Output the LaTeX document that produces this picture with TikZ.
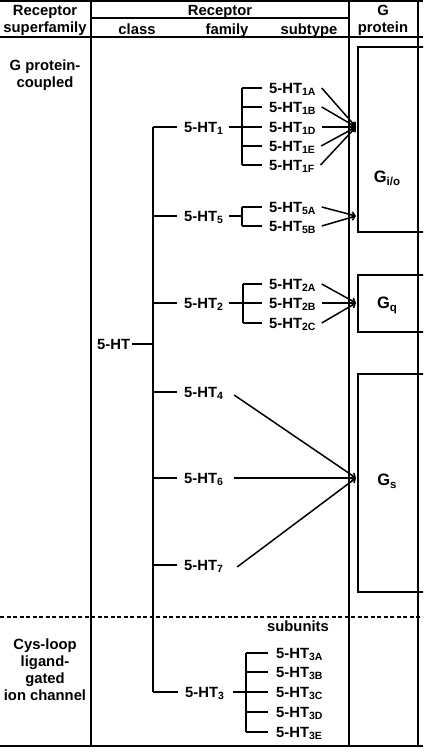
\documentclass[tikz,border=0pt]{standalone}
\usepackage{fontspec}
\setmainfont{Liberation Sans}
\usetikzlibrary{arrows.meta}
\newcommand\sbs[1]{\raisebox{-2pt}{\fontsize{10.5}{10.5}\selectfont #1}}
\newcommand\gsb[1]{\raisebox{-2.5pt}{\fontsize{11.5}{11.5}\selectfont #1}}
\begin{document}
\begin{tikzpicture}[x=1pt,y=-1pt,
  lab/.style={font=\fontsize{14.8}{17}\selectfont\bfseries, inner sep=0pt, text height=10.6pt, text depth=0pt},
  rl/.style={lab, anchor=west},
  hd/.style={lab, anchor=center},
  gl/.style={font=\fontsize{16.5}{18}\selectfont\bfseries, inner sep=0pt, text height=11.8pt, text depth=0pt, anchor=center},
  ml/.style={font=\fontsize{14.8}{17}\selectfont\bfseries, inner sep=0pt, align=center, anchor=north},
  border/.style={line width=2.6pt},
  tree/.style={line width=1.5pt},
  arr/.style={line width=1.5pt, -{Straight Barb[length=3.5pt,width=6pt]}},
  gbox/.style={line width=1.3pt},
]
\fill[white] (0,0) rectangle (423,754);
\clip (0,0) rectangle (423,754);

% table frame
\draw[border] (0,1) -- (423,1);
\draw[border] (0,746) -- (423,746);
\draw[border] (91,1) -- (91,746);
\draw[border] (349,1) -- (349,746);
\draw[border] (418,1) -- (418,746);
\draw[border] (91,18) -- (349,18);
\draw[border] (0,37) -- (423,37);
\draw[line width=1.6pt, dash pattern=on 4pt off 2.5pt] (0,617) -- (423,617);

% headers
\node[hd] (h1) at (45,10) {Receptor};
\node[hd] (h2) at (45,27) {superfamily};
\node[hd] (h3) at (220,10) {Receptor};
\node[hd] (h4) at (137,29) {class};
\node[hd] (h5) at (227,29) {family};
\node[hd] (h6) at (309,29) {subtype};
\node[hd] (h7) at (383,10) {G};
\node[hd] (h8) at (383,27) {protein};

% superfamily labels
\node[ml] (gpc) at (45,60) {G protein-\\coupled};
\node[ml] (cys) at (45,639) {Cys-loop\\ligand-\\gated\\ion channel};

% G protein boxes
\draw[gbox] (440,47) -- (358,47) -- (358,232) -- (440,232);
\draw[gbox] (440,275) -- (358,275) -- (358,332) -- (440,332);
\draw[gbox] (440,374) -- (358,374) -- (358,592) -- (440,592);
\node[gl] (gio) at (387,177) {G\gsb{i/o}};
\node[gl] (gq) at (387,303) {G\gsb{q}};
\node[gl] (gs) at (387,480) {G\gsb{s}};
\coordinate (tio) at (356,127);
\coordinate (tio5) at (356,216);
\coordinate (tq) at (356,303);
\coordinate (ts) at (356,478);

% class
\node[rl] (ht) at (97,344) {5-HT};
\coordinate (sp1) at (153,127);
\coordinate (sp2) at (153,692);
\draw[tree] (sp1) -- (sp2);
\draw[tree] ([xshift=2pt]ht.east) -- (153,344);

% families
\node[rl] (f1) at (184,127) {5-HT\sbs{1}};
\node[rl] (f5) at (184,216) {5-HT\sbs{5}};
\node[rl] (f2) at (184,303) {5-HT\sbs{2}};
\node[rl] (f4) at (184,392) {5-HT\sbs{4}};
\node[rl] (f6) at (184,478) {5-HT\sbs{6}};
\node[rl] (f7) at (184,565) {5-HT\sbs{7}};
\node[rl] (f3) at (185,692) {5-HT\sbs{3}};
\foreach \f in {f1,f5,f2,f4,f6,f7,f3}
  \draw[tree] (sp1 |- \f.west) -- ([xshift=-7pt]\f.west);

% subtypes 5-HT1
\node[rl] (s1a) at (269,88) {5-HT\sbs{1A}};
\node[rl] (s1b) at (269,107) {5-HT\sbs{1B}};
\node[rl] (s1d) at (269,127) {5-HT\sbs{1D}};
\node[rl] (s1e) at (269,146) {5-HT\sbs{1E}};
\node[rl] (s1f) at (269,165) {5-HT\sbs{1F}};
\coordinate (b1t) at (242,88);
\coordinate (b1b) at (242,165);
\draw[tree] (b1t) -- (b1b);
\draw[tree] ([xshift=6pt]f1.east) -- (b1t |- f1.east);
\foreach \s in {s1a,s1b,s1d,s1e,s1f}{
  \draw[tree] (b1t |- \s.west) -- ([xshift=-7pt]\s.west);
  \draw[arr] ([xshift=6pt]\s.east) -- (tio);
}

% subtypes 5-HT5
\node[rl] (s5a) at (269,207) {5-HT\sbs{5A}};
\node[rl] (s5b) at (269,226) {5-HT\sbs{5B}};
\coordinate (b5t) at (242,207);
\coordinate (b5b) at (242,226);
\draw[tree] (b5t) -- (b5b);
\draw[tree] ([xshift=6pt]f5.east) -- (b5t |- f5.east);
\foreach \s in {s5a,s5b}{
  \draw[tree] (b5t |- \s.west) -- ([xshift=-7pt]\s.west);
  \draw[arr] ([xshift=6pt]\s.east) -- (tio5);
}

% subtypes 5-HT2
\node[rl] (s2a) at (269,284) {5-HT\sbs{2A}};
\node[rl] (s2b) at (269,303) {5-HT\sbs{2B}};
\node[rl] (s2c) at (269,323) {5-HT\sbs{2C}};
\coordinate (b2t) at (243,284);
\coordinate (b2b) at (243,323);
\draw[tree] (b2t) -- (b2b);
\draw[tree] ([xshift=6pt]f2.east) -- (b2t |- f2.east);
\foreach \s in {s2a,s2b,s2c}{
  \draw[tree] (b2t |- \s.west) -- ([xshift=-7pt]\s.west);
  \draw[arr] ([xshift=6pt]\s.east) -- (tq);
}

% 5-HT4, 6, 7 to Gs
\draw[arr] ([xshift=11pt,yshift=-3pt]f4.east) -- (ts);
\draw[arr] ([xshift=11pt]f6.east) -- (ts);
\draw[arr] ([xshift=14pt,yshift=-2pt]f7.east) -- (ts);

% subunits 5-HT3
\node[hd] (subu) at (298,626) {subunits};
\node[rl] (u3a) at (276,653) {5-HT\sbs{3A}};
\node[rl] (u3b) at (276,672) {5-HT\sbs{3B}};
\node[rl] (u3c) at (276,692) {5-HT\sbs{3C}};
\node[rl] (u3d) at (276,712) {5-HT\sbs{3D}};
\node[rl] (u3e) at (276,732) {5-HT\sbs{3E}};
\coordinate (b3t) at (246,653);
\coordinate (b3b) at (246,732);
\draw[tree] (b3t) -- (b3b);
\draw[tree] ([xshift=9pt]f3.east) -- (b3t |- f3.east);
\foreach \s in {u3a,u3b,u3c,u3d,u3e}
  \draw[tree] (b3t |- \s.west) -- ([xshift=-8pt]\s.west);

\end{tikzpicture}
\end{document}
